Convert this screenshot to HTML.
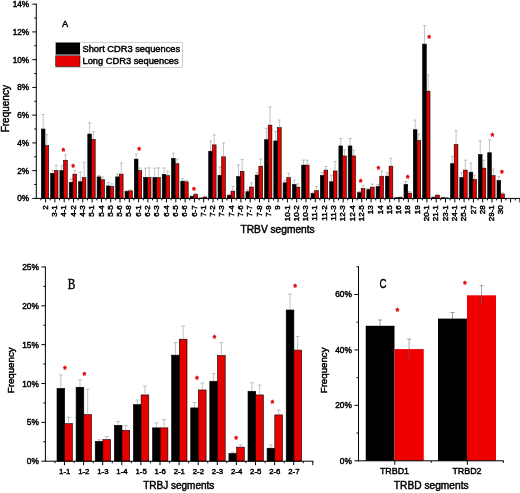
<!DOCTYPE html><html><head><meta charset="utf-8"><title>TRB segment usage</title><style>html,body{margin:0;padding:0;background:#fff}svg{display:block}text{font-family:"Liberation Sans",sans-serif;fill:#000;stroke:#000;stroke-width:.45px}.s{font-family:"Liberation Serif",serif}</style></head><body>
<svg width="520" height="493" viewBox="0 0 520 493">
<defs><filter id="soft" x="0" y="0" width="100%" height="100%" filterUnits="userSpaceOnUse"><feGaussianBlur stdDeviation="0.45"/></filter></defs><rect width="520" height="493" fill="#fff"/><g filter="url(#soft)">
<line x1="43.15" y1="114.46" x2="43.15" y2="129.03" stroke="#9a9a9a" stroke-width="0.6"/>
<line x1="41.55" y1="114.46" x2="44.75" y2="114.46" stroke="#9a9a9a" stroke-width="0.6"/>
<rect x="41.30" y="129.03" width="3.70" height="69.38" fill="#000" stroke="#000" stroke-width="0.6"/>
<rect x="45.00" y="145.68" width="3.70" height="52.72" fill="#e60000" stroke="#000" stroke-width="0.6"/>
<line x1="46.85" y1="134.58" x2="46.85" y2="145.68" stroke="#9a9a9a" stroke-width="0.6"/>
<line x1="45.25" y1="134.58" x2="48.45" y2="134.58" stroke="#9a9a9a" stroke-width="0.6"/>
<line x1="52.45" y1="170.65" x2="52.45" y2="173.43" stroke="#9a9a9a" stroke-width="0.6"/>
<line x1="50.85" y1="170.65" x2="54.05" y2="170.65" stroke="#9a9a9a" stroke-width="0.6"/>
<rect x="50.60" y="173.43" width="3.70" height="24.97" fill="#000" stroke="#000" stroke-width="0.6"/>
<rect x="54.30" y="170.65" width="3.70" height="27.75" fill="#e60000" stroke="#000" stroke-width="0.6"/>
<line x1="56.15" y1="165.10" x2="56.15" y2="170.65" stroke="#9a9a9a" stroke-width="0.6"/>
<line x1="54.55" y1="165.10" x2="57.75" y2="165.10" stroke="#9a9a9a" stroke-width="0.6"/>
<line x1="61.75" y1="165.79" x2="61.75" y2="170.65" stroke="#9a9a9a" stroke-width="0.6"/>
<line x1="60.15" y1="165.79" x2="63.35" y2="165.79" stroke="#9a9a9a" stroke-width="0.6"/>
<rect x="59.90" y="170.65" width="3.70" height="27.75" fill="#000" stroke="#000" stroke-width="0.6"/>
<rect x="63.60" y="160.24" width="3.70" height="38.16" fill="#e60000" stroke="#000" stroke-width="0.6"/>
<line x1="65.45" y1="154.69" x2="65.45" y2="160.24" stroke="#9a9a9a" stroke-width="0.6"/>
<line x1="63.85" y1="154.69" x2="67.05" y2="154.69" stroke="#9a9a9a" stroke-width="0.6"/>
<text x="61.84" y="154.27" font-size="8.5" font-weight="bold" style="fill:#e60000;stroke:#e60000">*</text>
<line x1="71.05" y1="178.98" x2="71.05" y2="182.44" stroke="#9a9a9a" stroke-width="0.6"/>
<line x1="69.45" y1="178.98" x2="72.65" y2="178.98" stroke="#9a9a9a" stroke-width="0.6"/>
<rect x="69.20" y="182.44" width="3.70" height="15.96" fill="#000" stroke="#000" stroke-width="0.6"/>
<rect x="72.90" y="174.12" width="3.70" height="24.28" fill="#e60000" stroke="#000" stroke-width="0.6"/>
<line x1="74.75" y1="170.65" x2="74.75" y2="174.12" stroke="#9a9a9a" stroke-width="0.6"/>
<line x1="73.15" y1="170.65" x2="76.35" y2="170.65" stroke="#9a9a9a" stroke-width="0.6"/>
<text x="71.54" y="169.97" font-size="8.5" font-weight="bold" style="fill:#e60000;stroke:#e60000">*</text>
<line x1="80.35" y1="172.04" x2="80.35" y2="181.75" stroke="#9a9a9a" stroke-width="0.6"/>
<line x1="78.75" y1="172.04" x2="81.95" y2="172.04" stroke="#9a9a9a" stroke-width="0.6"/>
<rect x="78.50" y="181.75" width="3.70" height="16.65" fill="#000" stroke="#000" stroke-width="0.6"/>
<rect x="82.20" y="177.59" width="3.70" height="20.81" fill="#e60000" stroke="#000" stroke-width="0.6"/>
<line x1="84.05" y1="162.32" x2="84.05" y2="177.59" stroke="#9a9a9a" stroke-width="0.6"/>
<line x1="82.45" y1="162.32" x2="85.65" y2="162.32" stroke="#9a9a9a" stroke-width="0.6"/>
<line x1="89.65" y1="122.78" x2="89.65" y2="134.02" stroke="#9a9a9a" stroke-width="0.6"/>
<line x1="88.05" y1="122.78" x2="91.25" y2="122.78" stroke="#9a9a9a" stroke-width="0.6"/>
<rect x="87.80" y="134.02" width="3.70" height="64.38" fill="#000" stroke="#000" stroke-width="0.6"/>
<rect x="91.50" y="139.43" width="3.70" height="58.97" fill="#e60000" stroke="#000" stroke-width="0.6"/>
<line x1="93.35" y1="131.80" x2="93.35" y2="139.43" stroke="#9a9a9a" stroke-width="0.6"/>
<line x1="91.75" y1="131.80" x2="94.95" y2="131.80" stroke="#9a9a9a" stroke-width="0.6"/>
<line x1="98.95" y1="175.51" x2="98.95" y2="176.89" stroke="#9a9a9a" stroke-width="0.6"/>
<line x1="97.35" y1="175.51" x2="100.55" y2="175.51" stroke="#9a9a9a" stroke-width="0.6"/>
<rect x="97.10" y="176.89" width="3.70" height="21.51" fill="#000" stroke="#000" stroke-width="0.6"/>
<rect x="100.80" y="179.67" width="3.70" height="18.73" fill="#e60000" stroke="#000" stroke-width="0.6"/>
<line x1="102.65" y1="176.89" x2="102.65" y2="179.67" stroke="#9a9a9a" stroke-width="0.6"/>
<line x1="101.05" y1="176.89" x2="104.25" y2="176.89" stroke="#9a9a9a" stroke-width="0.6"/>
<line x1="108.25" y1="182.44" x2="108.25" y2="185.91" stroke="#9a9a9a" stroke-width="0.6"/>
<line x1="106.65" y1="182.44" x2="109.85" y2="182.44" stroke="#9a9a9a" stroke-width="0.6"/>
<rect x="106.40" y="185.91" width="3.70" height="12.49" fill="#000" stroke="#000" stroke-width="0.6"/>
<rect x="110.10" y="186.61" width="3.70" height="11.79" fill="#e60000" stroke="#000" stroke-width="0.6"/>
<line x1="111.95" y1="183.83" x2="111.95" y2="186.61" stroke="#9a9a9a" stroke-width="0.6"/>
<line x1="110.35" y1="183.83" x2="113.55" y2="183.83" stroke="#9a9a9a" stroke-width="0.6"/>
<line x1="117.55" y1="174.12" x2="117.55" y2="176.89" stroke="#9a9a9a" stroke-width="0.6"/>
<line x1="115.95" y1="174.12" x2="119.15" y2="174.12" stroke="#9a9a9a" stroke-width="0.6"/>
<rect x="115.70" y="176.89" width="3.70" height="21.51" fill="#000" stroke="#000" stroke-width="0.6"/>
<rect x="119.40" y="174.12" width="3.70" height="24.28" fill="#e60000" stroke="#000" stroke-width="0.6"/>
<line x1="121.25" y1="163.02" x2="121.25" y2="174.12" stroke="#9a9a9a" stroke-width="0.6"/>
<line x1="119.65" y1="163.02" x2="122.85" y2="163.02" stroke="#9a9a9a" stroke-width="0.6"/>
<line x1="126.85" y1="190.77" x2="126.85" y2="191.46" stroke="#9a9a9a" stroke-width="0.6"/>
<line x1="125.25" y1="190.77" x2="128.45" y2="190.77" stroke="#9a9a9a" stroke-width="0.6"/>
<rect x="125.00" y="191.46" width="3.70" height="6.94" fill="#000" stroke="#000" stroke-width="0.6"/>
<rect x="128.70" y="190.77" width="3.70" height="7.63" fill="#e60000" stroke="#000" stroke-width="0.6"/>
<line x1="130.55" y1="190.08" x2="130.55" y2="190.77" stroke="#9a9a9a" stroke-width="0.6"/>
<line x1="128.95" y1="190.08" x2="132.15" y2="190.08" stroke="#9a9a9a" stroke-width="0.6"/>
<line x1="136.15" y1="154.00" x2="136.15" y2="159.13" stroke="#9a9a9a" stroke-width="0.6"/>
<line x1="134.55" y1="154.00" x2="137.75" y2="154.00" stroke="#9a9a9a" stroke-width="0.6"/>
<rect x="134.30" y="159.13" width="3.70" height="39.27" fill="#000" stroke="#000" stroke-width="0.6"/>
<rect x="138.00" y="170.65" width="3.70" height="27.75" fill="#e60000" stroke="#000" stroke-width="0.6"/>
<line x1="139.85" y1="167.88" x2="139.85" y2="170.65" stroke="#9a9a9a" stroke-width="0.6"/>
<line x1="138.25" y1="167.88" x2="141.45" y2="167.88" stroke="#9a9a9a" stroke-width="0.6"/>
<text x="137.59" y="152.97" font-size="8.5" font-weight="bold" style="fill:#e60000;stroke:#e60000">*</text>
<line x1="145.45" y1="168.15" x2="145.45" y2="177.45" stroke="#9a9a9a" stroke-width="0.6"/>
<line x1="143.85" y1="168.15" x2="147.05" y2="168.15" stroke="#9a9a9a" stroke-width="0.6"/>
<rect x="143.60" y="177.45" width="3.70" height="20.95" fill="#000" stroke="#000" stroke-width="0.6"/>
<rect x="147.30" y="177.45" width="3.70" height="20.95" fill="#e60000" stroke="#000" stroke-width="0.6"/>
<line x1="149.15" y1="167.88" x2="149.15" y2="177.45" stroke="#9a9a9a" stroke-width="0.6"/>
<line x1="147.55" y1="167.88" x2="150.75" y2="167.88" stroke="#9a9a9a" stroke-width="0.6"/>
<line x1="154.75" y1="168.15" x2="154.75" y2="177.59" stroke="#9a9a9a" stroke-width="0.6"/>
<line x1="153.15" y1="168.15" x2="156.35" y2="168.15" stroke="#9a9a9a" stroke-width="0.6"/>
<rect x="152.90" y="177.59" width="3.70" height="20.81" fill="#000" stroke="#000" stroke-width="0.6"/>
<rect x="156.60" y="177.59" width="3.70" height="20.81" fill="#e60000" stroke="#000" stroke-width="0.6"/>
<line x1="158.45" y1="167.88" x2="158.45" y2="177.59" stroke="#9a9a9a" stroke-width="0.6"/>
<line x1="156.85" y1="167.88" x2="160.05" y2="167.88" stroke="#9a9a9a" stroke-width="0.6"/>
<line x1="164.05" y1="167.88" x2="164.05" y2="174.40" stroke="#9a9a9a" stroke-width="0.6"/>
<line x1="162.45" y1="167.88" x2="165.65" y2="167.88" stroke="#9a9a9a" stroke-width="0.6"/>
<rect x="162.20" y="174.40" width="3.70" height="24.00" fill="#000" stroke="#000" stroke-width="0.6"/>
<rect x="165.90" y="175.65" width="3.70" height="22.75" fill="#e60000" stroke="#000" stroke-width="0.6"/>
<line x1="167.75" y1="171.21" x2="167.75" y2="175.65" stroke="#9a9a9a" stroke-width="0.6"/>
<line x1="166.15" y1="171.21" x2="169.35" y2="171.21" stroke="#9a9a9a" stroke-width="0.6"/>
<line x1="173.35" y1="153.17" x2="173.35" y2="158.44" stroke="#9a9a9a" stroke-width="0.6"/>
<line x1="171.75" y1="153.17" x2="174.95" y2="153.17" stroke="#9a9a9a" stroke-width="0.6"/>
<rect x="171.50" y="158.44" width="3.70" height="39.96" fill="#000" stroke="#000" stroke-width="0.6"/>
<rect x="175.20" y="163.71" width="3.70" height="34.69" fill="#e60000" stroke="#000" stroke-width="0.6"/>
<line x1="177.05" y1="159.13" x2="177.05" y2="163.71" stroke="#9a9a9a" stroke-width="0.6"/>
<line x1="175.45" y1="159.13" x2="178.65" y2="159.13" stroke="#9a9a9a" stroke-width="0.6"/>
<line x1="182.65" y1="178.70" x2="182.65" y2="181.19" stroke="#9a9a9a" stroke-width="0.6"/>
<line x1="181.05" y1="178.70" x2="184.25" y2="178.70" stroke="#9a9a9a" stroke-width="0.6"/>
<rect x="180.80" y="181.19" width="3.70" height="17.21" fill="#000" stroke="#000" stroke-width="0.6"/>
<rect x="184.50" y="181.89" width="3.70" height="16.51" fill="#e60000" stroke="#000" stroke-width="0.6"/>
<line x1="186.35" y1="180.36" x2="186.35" y2="181.89" stroke="#9a9a9a" stroke-width="0.6"/>
<line x1="184.75" y1="180.36" x2="187.95" y2="180.36" stroke="#9a9a9a" stroke-width="0.6"/>
<line x1="191.95" y1="195.90" x2="191.95" y2="196.46" stroke="#9a9a9a" stroke-width="0.6"/>
<line x1="190.35" y1="195.90" x2="193.55" y2="195.90" stroke="#9a9a9a" stroke-width="0.6"/>
<rect x="190.10" y="196.46" width="3.70" height="1.94" fill="#000" stroke="#000" stroke-width="0.6"/>
<rect x="193.80" y="194.38" width="3.70" height="4.02" fill="#e60000" stroke="#000" stroke-width="0.6"/>
<line x1="195.65" y1="193.54" x2="195.65" y2="194.38" stroke="#9a9a9a" stroke-width="0.6"/>
<line x1="194.05" y1="193.54" x2="197.25" y2="193.54" stroke="#9a9a9a" stroke-width="0.6"/>
<text x="192.34" y="193.22" font-size="8.5" font-weight="bold" style="fill:#e60000;stroke:#e60000">*</text>
<rect x="199.40" y="197.98" width="3.70" height="0.42" fill="#000" stroke="#000" stroke-width="0.6"/>
<rect x="203.10" y="197.01" width="3.70" height="1.39" fill="#e60000" stroke="#000" stroke-width="0.6"/>
<line x1="204.95" y1="196.32" x2="204.95" y2="197.01" stroke="#9a9a9a" stroke-width="0.6"/>
<line x1="203.35" y1="196.32" x2="206.55" y2="196.32" stroke="#9a9a9a" stroke-width="0.6"/>
<line x1="210.55" y1="141.10" x2="210.55" y2="151.23" stroke="#9a9a9a" stroke-width="0.6"/>
<line x1="208.95" y1="141.10" x2="212.15" y2="141.10" stroke="#9a9a9a" stroke-width="0.6"/>
<rect x="208.70" y="151.23" width="3.70" height="47.17" fill="#000" stroke="#000" stroke-width="0.6"/>
<rect x="212.40" y="144.84" width="3.70" height="53.56" fill="#e60000" stroke="#000" stroke-width="0.6"/>
<line x1="214.25" y1="134.85" x2="214.25" y2="144.84" stroke="#9a9a9a" stroke-width="0.6"/>
<line x1="212.65" y1="134.85" x2="215.85" y2="134.85" stroke="#9a9a9a" stroke-width="0.6"/>
<line x1="219.85" y1="166.90" x2="219.85" y2="175.37" stroke="#9a9a9a" stroke-width="0.6"/>
<line x1="218.25" y1="166.90" x2="221.45" y2="166.90" stroke="#9a9a9a" stroke-width="0.6"/>
<rect x="218.00" y="175.37" width="3.70" height="23.03" fill="#000" stroke="#000" stroke-width="0.6"/>
<rect x="221.70" y="156.78" width="3.70" height="41.62" fill="#e60000" stroke="#000" stroke-width="0.6"/>
<line x1="223.55" y1="142.90" x2="223.55" y2="156.78" stroke="#9a9a9a" stroke-width="0.6"/>
<line x1="221.95" y1="142.90" x2="225.15" y2="142.90" stroke="#9a9a9a" stroke-width="0.6"/>
<line x1="229.15" y1="194.24" x2="229.15" y2="195.35" stroke="#9a9a9a" stroke-width="0.6"/>
<line x1="227.55" y1="194.24" x2="230.75" y2="194.24" stroke="#9a9a9a" stroke-width="0.6"/>
<rect x="227.30" y="195.35" width="3.70" height="3.05" fill="#000" stroke="#000" stroke-width="0.6"/>
<rect x="231.00" y="191.19" width="3.70" height="7.22" fill="#e60000" stroke="#000" stroke-width="0.6"/>
<line x1="232.85" y1="186.19" x2="232.85" y2="191.19" stroke="#9a9a9a" stroke-width="0.6"/>
<line x1="231.25" y1="186.19" x2="234.45" y2="186.19" stroke="#9a9a9a" stroke-width="0.6"/>
<line x1="238.45" y1="164.96" x2="238.45" y2="176.62" stroke="#9a9a9a" stroke-width="0.6"/>
<line x1="236.85" y1="164.96" x2="240.05" y2="164.96" stroke="#9a9a9a" stroke-width="0.6"/>
<rect x="236.60" y="176.62" width="3.70" height="21.78" fill="#000" stroke="#000" stroke-width="0.6"/>
<rect x="240.30" y="171.34" width="3.70" height="27.06" fill="#e60000" stroke="#000" stroke-width="0.6"/>
<line x1="242.15" y1="159.41" x2="242.15" y2="171.34" stroke="#9a9a9a" stroke-width="0.6"/>
<line x1="240.55" y1="159.41" x2="243.75" y2="159.41" stroke="#9a9a9a" stroke-width="0.6"/>
<line x1="247.75" y1="189.66" x2="247.75" y2="191.74" stroke="#9a9a9a" stroke-width="0.6"/>
<line x1="246.15" y1="189.66" x2="249.35" y2="189.66" stroke="#9a9a9a" stroke-width="0.6"/>
<rect x="245.90" y="191.74" width="3.70" height="6.66" fill="#000" stroke="#000" stroke-width="0.6"/>
<rect x="249.60" y="187.02" width="3.70" height="11.38" fill="#e60000" stroke="#000" stroke-width="0.6"/>
<line x1="251.45" y1="182.72" x2="251.45" y2="187.02" stroke="#9a9a9a" stroke-width="0.6"/>
<line x1="249.85" y1="182.72" x2="253.05" y2="182.72" stroke="#9a9a9a" stroke-width="0.6"/>
<line x1="257.05" y1="172.59" x2="257.05" y2="175.09" stroke="#9a9a9a" stroke-width="0.6"/>
<line x1="255.45" y1="172.59" x2="258.65" y2="172.59" stroke="#9a9a9a" stroke-width="0.6"/>
<rect x="255.20" y="175.09" width="3.70" height="23.31" fill="#000" stroke="#000" stroke-width="0.6"/>
<rect x="258.90" y="166.21" width="3.70" height="32.19" fill="#e60000" stroke="#000" stroke-width="0.6"/>
<line x1="260.75" y1="158.86" x2="260.75" y2="166.21" stroke="#9a9a9a" stroke-width="0.6"/>
<line x1="259.15" y1="158.86" x2="262.35" y2="158.86" stroke="#9a9a9a" stroke-width="0.6"/>
<line x1="266.35" y1="128.33" x2="266.35" y2="139.71" stroke="#9a9a9a" stroke-width="0.6"/>
<line x1="264.75" y1="128.33" x2="267.95" y2="128.33" stroke="#9a9a9a" stroke-width="0.6"/>
<rect x="264.50" y="139.71" width="3.70" height="58.69" fill="#000" stroke="#000" stroke-width="0.6"/>
<rect x="268.20" y="125.14" width="3.70" height="73.26" fill="#e60000" stroke="#000" stroke-width="0.6"/>
<line x1="270.05" y1="106.83" x2="270.05" y2="125.14" stroke="#9a9a9a" stroke-width="0.6"/>
<line x1="268.45" y1="106.83" x2="271.65" y2="106.83" stroke="#9a9a9a" stroke-width="0.6"/>
<line x1="275.65" y1="131.38" x2="275.65" y2="140.96" stroke="#9a9a9a" stroke-width="0.6"/>
<line x1="274.05" y1="131.38" x2="277.25" y2="131.38" stroke="#9a9a9a" stroke-width="0.6"/>
<rect x="273.80" y="140.96" width="3.70" height="57.44" fill="#000" stroke="#000" stroke-width="0.6"/>
<rect x="277.50" y="127.64" width="3.70" height="70.76" fill="#e60000" stroke="#000" stroke-width="0.6"/>
<line x1="279.35" y1="120.01" x2="279.35" y2="127.64" stroke="#9a9a9a" stroke-width="0.6"/>
<line x1="277.75" y1="120.01" x2="280.95" y2="120.01" stroke="#9a9a9a" stroke-width="0.6"/>
<line x1="284.95" y1="180.36" x2="284.95" y2="182.86" stroke="#9a9a9a" stroke-width="0.6"/>
<line x1="283.35" y1="180.36" x2="286.55" y2="180.36" stroke="#9a9a9a" stroke-width="0.6"/>
<rect x="283.10" y="182.86" width="3.70" height="15.54" fill="#000" stroke="#000" stroke-width="0.6"/>
<rect x="286.80" y="177.59" width="3.70" height="20.81" fill="#e60000" stroke="#000" stroke-width="0.6"/>
<line x1="288.65" y1="173.15" x2="288.65" y2="177.59" stroke="#9a9a9a" stroke-width="0.6"/>
<line x1="287.05" y1="173.15" x2="290.25" y2="173.15" stroke="#9a9a9a" stroke-width="0.6"/>
<line x1="294.25" y1="180.36" x2="294.25" y2="184.53" stroke="#9a9a9a" stroke-width="0.6"/>
<line x1="292.65" y1="180.36" x2="295.85" y2="180.36" stroke="#9a9a9a" stroke-width="0.6"/>
<rect x="292.40" y="184.53" width="3.70" height="13.88" fill="#000" stroke="#000" stroke-width="0.6"/>
<rect x="296.10" y="187.16" width="3.70" height="11.24" fill="#e60000" stroke="#000" stroke-width="0.6"/>
<line x1="297.95" y1="183.83" x2="297.95" y2="187.16" stroke="#9a9a9a" stroke-width="0.6"/>
<line x1="296.35" y1="183.83" x2="299.55" y2="183.83" stroke="#9a9a9a" stroke-width="0.6"/>
<line x1="303.55" y1="160.11" x2="303.55" y2="165.10" stroke="#9a9a9a" stroke-width="0.6"/>
<line x1="301.95" y1="160.11" x2="305.15" y2="160.11" stroke="#9a9a9a" stroke-width="0.6"/>
<rect x="301.70" y="165.10" width="3.70" height="33.30" fill="#000" stroke="#000" stroke-width="0.6"/>
<rect x="305.40" y="165.10" width="3.70" height="33.30" fill="#e60000" stroke="#000" stroke-width="0.6"/>
<line x1="307.25" y1="160.11" x2="307.25" y2="165.10" stroke="#9a9a9a" stroke-width="0.6"/>
<line x1="305.65" y1="160.11" x2="308.85" y2="160.11" stroke="#9a9a9a" stroke-width="0.6"/>
<line x1="312.85" y1="192.16" x2="312.85" y2="193.68" stroke="#9a9a9a" stroke-width="0.6"/>
<line x1="311.25" y1="192.16" x2="314.45" y2="192.16" stroke="#9a9a9a" stroke-width="0.6"/>
<rect x="311.00" y="193.68" width="3.70" height="4.72" fill="#000" stroke="#000" stroke-width="0.6"/>
<rect x="314.70" y="190.63" width="3.70" height="7.77" fill="#e60000" stroke="#000" stroke-width="0.6"/>
<line x1="316.55" y1="186.47" x2="316.55" y2="190.63" stroke="#9a9a9a" stroke-width="0.6"/>
<line x1="314.95" y1="186.47" x2="318.15" y2="186.47" stroke="#9a9a9a" stroke-width="0.6"/>
<line x1="322.15" y1="172.59" x2="322.15" y2="175.65" stroke="#9a9a9a" stroke-width="0.6"/>
<line x1="320.55" y1="172.59" x2="323.75" y2="172.59" stroke="#9a9a9a" stroke-width="0.6"/>
<rect x="320.30" y="175.65" width="3.70" height="22.75" fill="#000" stroke="#000" stroke-width="0.6"/>
<rect x="324.00" y="170.09" width="3.70" height="28.31" fill="#e60000" stroke="#000" stroke-width="0.6"/>
<line x1="325.85" y1="166.49" x2="325.85" y2="170.09" stroke="#9a9a9a" stroke-width="0.6"/>
<line x1="324.25" y1="166.49" x2="327.45" y2="166.49" stroke="#9a9a9a" stroke-width="0.6"/>
<line x1="331.45" y1="175.09" x2="331.45" y2="181.75" stroke="#9a9a9a" stroke-width="0.6"/>
<line x1="329.85" y1="175.09" x2="333.05" y2="175.09" stroke="#9a9a9a" stroke-width="0.6"/>
<rect x="329.60" y="181.75" width="3.70" height="16.65" fill="#000" stroke="#000" stroke-width="0.6"/>
<rect x="333.30" y="170.93" width="3.70" height="27.47" fill="#e60000" stroke="#000" stroke-width="0.6"/>
<line x1="335.15" y1="161.35" x2="335.15" y2="170.93" stroke="#9a9a9a" stroke-width="0.6"/>
<line x1="333.55" y1="161.35" x2="336.75" y2="161.35" stroke="#9a9a9a" stroke-width="0.6"/>
<line x1="340.75" y1="138.46" x2="340.75" y2="145.95" stroke="#9a9a9a" stroke-width="0.6"/>
<line x1="339.15" y1="138.46" x2="342.35" y2="138.46" stroke="#9a9a9a" stroke-width="0.6"/>
<rect x="338.90" y="145.95" width="3.70" height="52.45" fill="#000" stroke="#000" stroke-width="0.6"/>
<rect x="342.60" y="155.94" width="3.70" height="42.46" fill="#e60000" stroke="#000" stroke-width="0.6"/>
<line x1="344.45" y1="149.84" x2="344.45" y2="155.94" stroke="#9a9a9a" stroke-width="0.6"/>
<line x1="342.85" y1="149.84" x2="346.05" y2="149.84" stroke="#9a9a9a" stroke-width="0.6"/>
<line x1="350.05" y1="138.46" x2="350.05" y2="145.95" stroke="#9a9a9a" stroke-width="0.6"/>
<line x1="348.45" y1="138.46" x2="351.65" y2="138.46" stroke="#9a9a9a" stroke-width="0.6"/>
<rect x="348.20" y="145.95" width="3.70" height="52.45" fill="#000" stroke="#000" stroke-width="0.6"/>
<rect x="351.90" y="155.94" width="3.70" height="42.46" fill="#e60000" stroke="#000" stroke-width="0.6"/>
<line x1="353.75" y1="150.12" x2="353.75" y2="155.94" stroke="#9a9a9a" stroke-width="0.6"/>
<line x1="352.15" y1="150.12" x2="355.35" y2="150.12" stroke="#9a9a9a" stroke-width="0.6"/>
<line x1="359.35" y1="191.46" x2="359.35" y2="192.71" stroke="#9a9a9a" stroke-width="0.6"/>
<line x1="357.75" y1="191.46" x2="360.95" y2="191.46" stroke="#9a9a9a" stroke-width="0.6"/>
<rect x="357.50" y="192.71" width="3.70" height="5.69" fill="#000" stroke="#000" stroke-width="0.6"/>
<rect x="361.20" y="188.41" width="3.70" height="9.99" fill="#e60000" stroke="#000" stroke-width="0.6"/>
<line x1="363.05" y1="185.22" x2="363.05" y2="188.41" stroke="#9a9a9a" stroke-width="0.6"/>
<line x1="361.45" y1="185.22" x2="364.65" y2="185.22" stroke="#9a9a9a" stroke-width="0.6"/>
<text x="359.04" y="185.17" font-size="8.5" font-weight="bold" style="fill:#e60000;stroke:#e60000">*</text>
<line x1="368.65" y1="188.69" x2="368.65" y2="189.66" stroke="#9a9a9a" stroke-width="0.6"/>
<line x1="367.05" y1="188.69" x2="370.25" y2="188.69" stroke="#9a9a9a" stroke-width="0.6"/>
<rect x="366.80" y="189.66" width="3.70" height="8.74" fill="#000" stroke="#000" stroke-width="0.6"/>
<rect x="370.50" y="187.16" width="3.70" height="11.24" fill="#e60000" stroke="#000" stroke-width="0.6"/>
<line x1="372.35" y1="184.11" x2="372.35" y2="187.16" stroke="#9a9a9a" stroke-width="0.6"/>
<line x1="370.75" y1="184.11" x2="373.95" y2="184.11" stroke="#9a9a9a" stroke-width="0.6"/>
<line x1="377.95" y1="184.53" x2="377.95" y2="186.61" stroke="#9a9a9a" stroke-width="0.6"/>
<line x1="376.35" y1="184.53" x2="379.55" y2="184.53" stroke="#9a9a9a" stroke-width="0.6"/>
<rect x="376.10" y="186.61" width="3.70" height="11.79" fill="#000" stroke="#000" stroke-width="0.6"/>
<rect x="379.80" y="176.20" width="3.70" height="22.20" fill="#e60000" stroke="#000" stroke-width="0.6"/>
<line x1="381.65" y1="170.93" x2="381.65" y2="176.20" stroke="#9a9a9a" stroke-width="0.6"/>
<line x1="380.05" y1="170.93" x2="383.25" y2="170.93" stroke="#9a9a9a" stroke-width="0.6"/>
<text x="376.84" y="172.47" font-size="8.5" font-weight="bold" style="fill:#e60000;stroke:#e60000">*</text>
<line x1="387.25" y1="172.59" x2="387.25" y2="176.20" stroke="#9a9a9a" stroke-width="0.6"/>
<line x1="385.65" y1="172.59" x2="388.85" y2="172.59" stroke="#9a9a9a" stroke-width="0.6"/>
<rect x="385.40" y="176.20" width="3.70" height="22.20" fill="#000" stroke="#000" stroke-width="0.6"/>
<rect x="389.10" y="166.21" width="3.70" height="32.19" fill="#e60000" stroke="#000" stroke-width="0.6"/>
<line x1="390.95" y1="158.16" x2="390.95" y2="166.21" stroke="#9a9a9a" stroke-width="0.6"/>
<line x1="389.35" y1="158.16" x2="392.55" y2="158.16" stroke="#9a9a9a" stroke-width="0.6"/>
<rect x="394.70" y="197.71" width="3.70" height="0.69" fill="#000" stroke="#000" stroke-width="0.6"/>
<rect x="398.40" y="197.15" width="3.70" height="1.25" fill="#e60000" stroke="#000" stroke-width="0.6"/>
<line x1="405.85" y1="181.47" x2="405.85" y2="184.53" stroke="#9a9a9a" stroke-width="0.6"/>
<line x1="404.25" y1="181.47" x2="407.45" y2="181.47" stroke="#9a9a9a" stroke-width="0.6"/>
<rect x="404.00" y="184.53" width="3.70" height="13.88" fill="#000" stroke="#000" stroke-width="0.6"/>
<rect x="407.70" y="193.13" width="3.70" height="5.27" fill="#e60000" stroke="#000" stroke-width="0.6"/>
<line x1="409.55" y1="191.46" x2="409.55" y2="193.13" stroke="#9a9a9a" stroke-width="0.6"/>
<line x1="407.95" y1="191.46" x2="411.15" y2="191.46" stroke="#9a9a9a" stroke-width="0.6"/>
<text x="406.09" y="180.72" font-size="8.5" font-weight="bold" style="fill:#e60000;stroke:#e60000">*</text>
<line x1="415.15" y1="120.01" x2="415.15" y2="129.72" stroke="#9a9a9a" stroke-width="0.6"/>
<line x1="413.55" y1="120.01" x2="416.75" y2="120.01" stroke="#9a9a9a" stroke-width="0.6"/>
<rect x="413.30" y="129.72" width="3.70" height="68.68" fill="#000" stroke="#000" stroke-width="0.6"/>
<rect x="417.00" y="140.68" width="3.70" height="57.72" fill="#e60000" stroke="#000" stroke-width="0.6"/>
<line x1="418.85" y1="133.88" x2="418.85" y2="140.68" stroke="#9a9a9a" stroke-width="0.6"/>
<line x1="417.25" y1="133.88" x2="420.45" y2="133.88" stroke="#9a9a9a" stroke-width="0.6"/>
<line x1="424.45" y1="25.66" x2="424.45" y2="44.11" stroke="#9a9a9a" stroke-width="0.6"/>
<line x1="422.85" y1="25.66" x2="426.05" y2="25.66" stroke="#9a9a9a" stroke-width="0.6"/>
<rect x="422.60" y="44.11" width="3.70" height="154.29" fill="#000" stroke="#000" stroke-width="0.6"/>
<rect x="426.30" y="91.15" width="3.70" height="107.25" fill="#e60000" stroke="#000" stroke-width="0.6"/>
<line x1="428.15" y1="74.91" x2="428.15" y2="91.15" stroke="#9a9a9a" stroke-width="0.6"/>
<line x1="426.55" y1="74.91" x2="429.75" y2="74.91" stroke="#9a9a9a" stroke-width="0.6"/>
<text x="427.59" y="41.22" font-size="8.5" font-weight="bold" style="fill:#e60000;stroke:#e60000">*</text>
<rect x="431.90" y="197.15" width="3.70" height="1.25" fill="#000" stroke="#000" stroke-width="0.6"/>
<rect x="435.60" y="195.21" width="3.70" height="3.19" fill="#e60000" stroke="#000" stroke-width="0.6"/>
<line x1="437.45" y1="194.24" x2="437.45" y2="195.21" stroke="#9a9a9a" stroke-width="0.6"/>
<line x1="435.85" y1="194.24" x2="439.05" y2="194.24" stroke="#9a9a9a" stroke-width="0.6"/>
<rect x="441.20" y="197.71" width="3.70" height="0.69" fill="#000" stroke="#000" stroke-width="0.6"/>
<rect x="444.90" y="197.98" width="3.70" height="0.42" fill="#e60000" stroke="#000" stroke-width="0.6"/>
<line x1="452.35" y1="156.36" x2="452.35" y2="163.71" stroke="#9a9a9a" stroke-width="0.6"/>
<line x1="450.75" y1="156.36" x2="453.95" y2="156.36" stroke="#9a9a9a" stroke-width="0.6"/>
<rect x="450.50" y="163.71" width="3.70" height="34.69" fill="#000" stroke="#000" stroke-width="0.6"/>
<rect x="454.20" y="144.43" width="3.70" height="53.97" fill="#e60000" stroke="#000" stroke-width="0.6"/>
<line x1="456.05" y1="130.69" x2="456.05" y2="144.43" stroke="#9a9a9a" stroke-width="0.6"/>
<line x1="454.45" y1="130.69" x2="457.65" y2="130.69" stroke="#9a9a9a" stroke-width="0.6"/>
<line x1="461.65" y1="172.59" x2="461.65" y2="177.59" stroke="#9a9a9a" stroke-width="0.6"/>
<line x1="460.05" y1="172.59" x2="463.25" y2="172.59" stroke="#9a9a9a" stroke-width="0.6"/>
<rect x="459.80" y="177.59" width="3.70" height="20.81" fill="#000" stroke="#000" stroke-width="0.6"/>
<rect x="463.50" y="170.09" width="3.70" height="28.31" fill="#e60000" stroke="#000" stroke-width="0.6"/>
<line x1="465.35" y1="160.11" x2="465.35" y2="170.09" stroke="#9a9a9a" stroke-width="0.6"/>
<line x1="463.75" y1="160.11" x2="466.95" y2="160.11" stroke="#9a9a9a" stroke-width="0.6"/>
<line x1="470.95" y1="163.16" x2="470.95" y2="172.18" stroke="#9a9a9a" stroke-width="0.6"/>
<line x1="469.35" y1="163.16" x2="472.55" y2="163.16" stroke="#9a9a9a" stroke-width="0.6"/>
<rect x="469.10" y="172.18" width="3.70" height="26.22" fill="#000" stroke="#000" stroke-width="0.6"/>
<rect x="472.80" y="179.39" width="3.70" height="19.01" fill="#e60000" stroke="#000" stroke-width="0.6"/>
<line x1="474.65" y1="175.09" x2="474.65" y2="179.39" stroke="#9a9a9a" stroke-width="0.6"/>
<line x1="473.05" y1="175.09" x2="476.25" y2="175.09" stroke="#9a9a9a" stroke-width="0.6"/>
<line x1="480.25" y1="140.82" x2="480.25" y2="154.69" stroke="#9a9a9a" stroke-width="0.6"/>
<line x1="478.65" y1="140.82" x2="481.85" y2="140.82" stroke="#9a9a9a" stroke-width="0.6"/>
<rect x="478.40" y="154.69" width="3.70" height="43.71" fill="#000" stroke="#000" stroke-width="0.6"/>
<rect x="482.10" y="168.15" width="3.70" height="30.25" fill="#e60000" stroke="#000" stroke-width="0.6"/>
<line x1="483.95" y1="160.24" x2="483.95" y2="168.15" stroke="#9a9a9a" stroke-width="0.6"/>
<line x1="482.35" y1="160.24" x2="485.55" y2="160.24" stroke="#9a9a9a" stroke-width="0.6"/>
<line x1="489.55" y1="139.85" x2="489.55" y2="152.75" stroke="#9a9a9a" stroke-width="0.6"/>
<line x1="487.95" y1="139.85" x2="491.15" y2="139.85" stroke="#9a9a9a" stroke-width="0.6"/>
<rect x="487.70" y="152.75" width="3.70" height="45.65" fill="#000" stroke="#000" stroke-width="0.6"/>
<rect x="491.40" y="175.65" width="3.70" height="22.75" fill="#e60000" stroke="#000" stroke-width="0.6"/>
<line x1="493.25" y1="168.99" x2="493.25" y2="175.65" stroke="#9a9a9a" stroke-width="0.6"/>
<line x1="491.65" y1="168.99" x2="494.85" y2="168.99" stroke="#9a9a9a" stroke-width="0.6"/>
<text x="490.84" y="139.37" font-size="8.5" font-weight="bold" style="fill:#e60000;stroke:#e60000">*</text>
<line x1="498.85" y1="176.48" x2="498.85" y2="180.64" stroke="#9a9a9a" stroke-width="0.6"/>
<line x1="497.25" y1="176.48" x2="500.45" y2="176.48" stroke="#9a9a9a" stroke-width="0.6"/>
<rect x="497.00" y="180.64" width="3.70" height="17.76" fill="#000" stroke="#000" stroke-width="0.6"/>
<rect x="500.70" y="193.96" width="3.70" height="4.44" fill="#e60000" stroke="#000" stroke-width="0.6"/>
<line x1="502.55" y1="192.85" x2="502.55" y2="193.96" stroke="#9a9a9a" stroke-width="0.6"/>
<line x1="500.95" y1="192.85" x2="504.15" y2="192.85" stroke="#9a9a9a" stroke-width="0.6"/>
<text x="500.34" y="175.57" font-size="8.5" font-weight="bold" style="fill:#e60000;stroke:#e60000">*</text>
<line x1="36.30" y1="3.80" x2="36.30" y2="198.90" stroke="#000" stroke-width="1"/>
<line x1="35.80" y1="198.40" x2="520.00" y2="198.40" stroke="#000" stroke-width="1"/>
<line x1="32.30" y1="198.40" x2="36.30" y2="198.40" stroke="#000" stroke-width="1"/>
<text x="29.1" y="201.30" font-size="8.2" text-anchor="end">0%</text>
<line x1="34.30" y1="184.53" x2="36.30" y2="184.53" stroke="#000" stroke-width="1"/>
<line x1="32.30" y1="170.65" x2="36.30" y2="170.65" stroke="#000" stroke-width="1"/>
<text x="29.1" y="173.55" font-size="8.2" text-anchor="end">2%</text>
<line x1="34.30" y1="156.78" x2="36.30" y2="156.78" stroke="#000" stroke-width="1"/>
<line x1="32.30" y1="142.90" x2="36.30" y2="142.90" stroke="#000" stroke-width="1"/>
<text x="29.1" y="145.80" font-size="8.2" text-anchor="end">4%</text>
<line x1="34.30" y1="129.03" x2="36.30" y2="129.03" stroke="#000" stroke-width="1"/>
<line x1="32.30" y1="115.15" x2="36.30" y2="115.15" stroke="#000" stroke-width="1"/>
<text x="29.1" y="118.05" font-size="8.2" text-anchor="end">6%</text>
<line x1="34.30" y1="101.28" x2="36.30" y2="101.28" stroke="#000" stroke-width="1"/>
<line x1="32.30" y1="87.40" x2="36.30" y2="87.40" stroke="#000" stroke-width="1"/>
<text x="29.1" y="90.30" font-size="8.2" text-anchor="end">8%</text>
<line x1="34.30" y1="73.53" x2="36.30" y2="73.53" stroke="#000" stroke-width="1"/>
<line x1="32.30" y1="59.65" x2="36.30" y2="59.65" stroke="#000" stroke-width="1"/>
<text x="29.1" y="62.55" font-size="8.2" text-anchor="end">10%</text>
<line x1="34.30" y1="45.78" x2="36.30" y2="45.78" stroke="#000" stroke-width="1"/>
<line x1="32.30" y1="31.90" x2="36.30" y2="31.90" stroke="#000" stroke-width="1"/>
<text x="29.1" y="34.80" font-size="8.2" text-anchor="end">12%</text>
<line x1="34.30" y1="18.03" x2="36.30" y2="18.03" stroke="#000" stroke-width="1"/>
<line x1="32.30" y1="4.15" x2="36.30" y2="4.15" stroke="#000" stroke-width="1"/>
<text x="29.1" y="7.05" font-size="8.2" text-anchor="end">14%</text>
<line x1="40.95" y1="198.40" x2="40.95" y2="200.40" stroke="#000" stroke-width="1"/>
<line x1="45.60" y1="198.40" x2="45.60" y2="202.40" stroke="#000" stroke-width="1"/>
<line x1="50.25" y1="198.40" x2="50.25" y2="200.40" stroke="#000" stroke-width="1"/>
<line x1="54.90" y1="198.40" x2="54.90" y2="202.40" stroke="#000" stroke-width="1"/>
<line x1="59.55" y1="198.40" x2="59.55" y2="200.40" stroke="#000" stroke-width="1"/>
<line x1="64.20" y1="198.40" x2="64.20" y2="202.40" stroke="#000" stroke-width="1"/>
<line x1="68.85" y1="198.40" x2="68.85" y2="200.40" stroke="#000" stroke-width="1"/>
<line x1="73.50" y1="198.40" x2="73.50" y2="202.40" stroke="#000" stroke-width="1"/>
<line x1="78.15" y1="198.40" x2="78.15" y2="200.40" stroke="#000" stroke-width="1"/>
<line x1="82.80" y1="198.40" x2="82.80" y2="202.40" stroke="#000" stroke-width="1"/>
<line x1="87.45" y1="198.40" x2="87.45" y2="200.40" stroke="#000" stroke-width="1"/>
<line x1="92.10" y1="198.40" x2="92.10" y2="202.40" stroke="#000" stroke-width="1"/>
<line x1="96.75" y1="198.40" x2="96.75" y2="200.40" stroke="#000" stroke-width="1"/>
<line x1="101.40" y1="198.40" x2="101.40" y2="202.40" stroke="#000" stroke-width="1"/>
<line x1="106.05" y1="198.40" x2="106.05" y2="200.40" stroke="#000" stroke-width="1"/>
<line x1="110.70" y1="198.40" x2="110.70" y2="202.40" stroke="#000" stroke-width="1"/>
<line x1="115.35" y1="198.40" x2="115.35" y2="200.40" stroke="#000" stroke-width="1"/>
<line x1="120.00" y1="198.40" x2="120.00" y2="202.40" stroke="#000" stroke-width="1"/>
<line x1="124.65" y1="198.40" x2="124.65" y2="200.40" stroke="#000" stroke-width="1"/>
<line x1="129.30" y1="198.40" x2="129.30" y2="202.40" stroke="#000" stroke-width="1"/>
<line x1="133.95" y1="198.40" x2="133.95" y2="200.40" stroke="#000" stroke-width="1"/>
<line x1="138.60" y1="198.40" x2="138.60" y2="202.40" stroke="#000" stroke-width="1"/>
<line x1="143.25" y1="198.40" x2="143.25" y2="200.40" stroke="#000" stroke-width="1"/>
<line x1="147.90" y1="198.40" x2="147.90" y2="202.40" stroke="#000" stroke-width="1"/>
<line x1="152.55" y1="198.40" x2="152.55" y2="200.40" stroke="#000" stroke-width="1"/>
<line x1="157.20" y1="198.40" x2="157.20" y2="202.40" stroke="#000" stroke-width="1"/>
<line x1="161.85" y1="198.40" x2="161.85" y2="200.40" stroke="#000" stroke-width="1"/>
<line x1="166.50" y1="198.40" x2="166.50" y2="202.40" stroke="#000" stroke-width="1"/>
<line x1="171.15" y1="198.40" x2="171.15" y2="200.40" stroke="#000" stroke-width="1"/>
<line x1="175.80" y1="198.40" x2="175.80" y2="202.40" stroke="#000" stroke-width="1"/>
<line x1="180.45" y1="198.40" x2="180.45" y2="200.40" stroke="#000" stroke-width="1"/>
<line x1="185.10" y1="198.40" x2="185.10" y2="202.40" stroke="#000" stroke-width="1"/>
<line x1="189.75" y1="198.40" x2="189.75" y2="200.40" stroke="#000" stroke-width="1"/>
<line x1="194.40" y1="198.40" x2="194.40" y2="202.40" stroke="#000" stroke-width="1"/>
<line x1="199.05" y1="198.40" x2="199.05" y2="200.40" stroke="#000" stroke-width="1"/>
<line x1="203.70" y1="198.40" x2="203.70" y2="202.40" stroke="#000" stroke-width="1"/>
<line x1="208.35" y1="198.40" x2="208.35" y2="200.40" stroke="#000" stroke-width="1"/>
<line x1="213.00" y1="198.40" x2="213.00" y2="202.40" stroke="#000" stroke-width="1"/>
<line x1="217.65" y1="198.40" x2="217.65" y2="200.40" stroke="#000" stroke-width="1"/>
<line x1="222.30" y1="198.40" x2="222.30" y2="202.40" stroke="#000" stroke-width="1"/>
<line x1="226.95" y1="198.40" x2="226.95" y2="200.40" stroke="#000" stroke-width="1"/>
<line x1="231.60" y1="198.40" x2="231.60" y2="202.40" stroke="#000" stroke-width="1"/>
<line x1="236.25" y1="198.40" x2="236.25" y2="200.40" stroke="#000" stroke-width="1"/>
<line x1="240.90" y1="198.40" x2="240.90" y2="202.40" stroke="#000" stroke-width="1"/>
<line x1="245.55" y1="198.40" x2="245.55" y2="200.40" stroke="#000" stroke-width="1"/>
<line x1="250.20" y1="198.40" x2="250.20" y2="202.40" stroke="#000" stroke-width="1"/>
<line x1="254.85" y1="198.40" x2="254.85" y2="200.40" stroke="#000" stroke-width="1"/>
<line x1="259.50" y1="198.40" x2="259.50" y2="202.40" stroke="#000" stroke-width="1"/>
<line x1="264.15" y1="198.40" x2="264.15" y2="200.40" stroke="#000" stroke-width="1"/>
<line x1="268.80" y1="198.40" x2="268.80" y2="202.40" stroke="#000" stroke-width="1"/>
<line x1="273.45" y1="198.40" x2="273.45" y2="200.40" stroke="#000" stroke-width="1"/>
<line x1="278.10" y1="198.40" x2="278.10" y2="202.40" stroke="#000" stroke-width="1"/>
<line x1="282.75" y1="198.40" x2="282.75" y2="200.40" stroke="#000" stroke-width="1"/>
<line x1="287.40" y1="198.40" x2="287.40" y2="202.40" stroke="#000" stroke-width="1"/>
<line x1="292.05" y1="198.40" x2="292.05" y2="200.40" stroke="#000" stroke-width="1"/>
<line x1="296.70" y1="198.40" x2="296.70" y2="202.40" stroke="#000" stroke-width="1"/>
<line x1="301.35" y1="198.40" x2="301.35" y2="200.40" stroke="#000" stroke-width="1"/>
<line x1="306.00" y1="198.40" x2="306.00" y2="202.40" stroke="#000" stroke-width="1"/>
<line x1="310.65" y1="198.40" x2="310.65" y2="200.40" stroke="#000" stroke-width="1"/>
<line x1="315.30" y1="198.40" x2="315.30" y2="202.40" stroke="#000" stroke-width="1"/>
<line x1="319.95" y1="198.40" x2="319.95" y2="200.40" stroke="#000" stroke-width="1"/>
<line x1="324.60" y1="198.40" x2="324.60" y2="202.40" stroke="#000" stroke-width="1"/>
<line x1="329.25" y1="198.40" x2="329.25" y2="200.40" stroke="#000" stroke-width="1"/>
<line x1="333.90" y1="198.40" x2="333.90" y2="202.40" stroke="#000" stroke-width="1"/>
<line x1="338.55" y1="198.40" x2="338.55" y2="200.40" stroke="#000" stroke-width="1"/>
<line x1="343.20" y1="198.40" x2="343.20" y2="202.40" stroke="#000" stroke-width="1"/>
<line x1="347.85" y1="198.40" x2="347.85" y2="200.40" stroke="#000" stroke-width="1"/>
<line x1="352.50" y1="198.40" x2="352.50" y2="202.40" stroke="#000" stroke-width="1"/>
<line x1="357.15" y1="198.40" x2="357.15" y2="200.40" stroke="#000" stroke-width="1"/>
<line x1="361.80" y1="198.40" x2="361.80" y2="202.40" stroke="#000" stroke-width="1"/>
<line x1="366.45" y1="198.40" x2="366.45" y2="200.40" stroke="#000" stroke-width="1"/>
<line x1="371.10" y1="198.40" x2="371.10" y2="202.40" stroke="#000" stroke-width="1"/>
<line x1="375.75" y1="198.40" x2="375.75" y2="200.40" stroke="#000" stroke-width="1"/>
<line x1="380.40" y1="198.40" x2="380.40" y2="202.40" stroke="#000" stroke-width="1"/>
<line x1="385.05" y1="198.40" x2="385.05" y2="200.40" stroke="#000" stroke-width="1"/>
<line x1="389.70" y1="198.40" x2="389.70" y2="202.40" stroke="#000" stroke-width="1"/>
<line x1="394.35" y1="198.40" x2="394.35" y2="200.40" stroke="#000" stroke-width="1"/>
<line x1="399.00" y1="198.40" x2="399.00" y2="202.40" stroke="#000" stroke-width="1"/>
<line x1="403.65" y1="198.40" x2="403.65" y2="200.40" stroke="#000" stroke-width="1"/>
<line x1="408.30" y1="198.40" x2="408.30" y2="202.40" stroke="#000" stroke-width="1"/>
<line x1="412.95" y1="198.40" x2="412.95" y2="200.40" stroke="#000" stroke-width="1"/>
<line x1="417.60" y1="198.40" x2="417.60" y2="202.40" stroke="#000" stroke-width="1"/>
<line x1="422.25" y1="198.40" x2="422.25" y2="200.40" stroke="#000" stroke-width="1"/>
<line x1="426.90" y1="198.40" x2="426.90" y2="202.40" stroke="#000" stroke-width="1"/>
<line x1="431.55" y1="198.40" x2="431.55" y2="200.40" stroke="#000" stroke-width="1"/>
<line x1="436.20" y1="198.40" x2="436.20" y2="202.40" stroke="#000" stroke-width="1"/>
<line x1="440.85" y1="198.40" x2="440.85" y2="200.40" stroke="#000" stroke-width="1"/>
<line x1="445.50" y1="198.40" x2="445.50" y2="202.40" stroke="#000" stroke-width="1"/>
<line x1="450.15" y1="198.40" x2="450.15" y2="200.40" stroke="#000" stroke-width="1"/>
<line x1="454.80" y1="198.40" x2="454.80" y2="202.40" stroke="#000" stroke-width="1"/>
<line x1="459.45" y1="198.40" x2="459.45" y2="200.40" stroke="#000" stroke-width="1"/>
<line x1="464.10" y1="198.40" x2="464.10" y2="202.40" stroke="#000" stroke-width="1"/>
<line x1="468.75" y1="198.40" x2="468.75" y2="200.40" stroke="#000" stroke-width="1"/>
<line x1="473.40" y1="198.40" x2="473.40" y2="202.40" stroke="#000" stroke-width="1"/>
<line x1="478.05" y1="198.40" x2="478.05" y2="200.40" stroke="#000" stroke-width="1"/>
<line x1="482.70" y1="198.40" x2="482.70" y2="202.40" stroke="#000" stroke-width="1"/>
<line x1="487.35" y1="198.40" x2="487.35" y2="200.40" stroke="#000" stroke-width="1"/>
<line x1="492.00" y1="198.40" x2="492.00" y2="202.40" stroke="#000" stroke-width="1"/>
<line x1="496.65" y1="198.40" x2="496.65" y2="200.40" stroke="#000" stroke-width="1"/>
<line x1="501.30" y1="198.40" x2="501.30" y2="202.40" stroke="#000" stroke-width="1"/>
<line x1="505.95" y1="198.40" x2="505.95" y2="200.40" stroke="#000" stroke-width="1"/>
<line x1="510.60" y1="198.40" x2="510.60" y2="202.40" stroke="#000" stroke-width="1"/>
<line x1="515.25" y1="198.40" x2="515.25" y2="200.40" stroke="#000" stroke-width="1"/>
<line x1="519.90" y1="198.40" x2="519.90" y2="202.40" stroke="#000" stroke-width="1"/>
<text transform="translate(47.70,205.2) rotate(-90) scale(1.06,1)" font-size="7.6" text-anchor="end">2</text>
<text transform="translate(57.00,205.2) rotate(-90) scale(1.06,1)" font-size="7.6" text-anchor="end">3-1</text>
<text transform="translate(66.30,205.2) rotate(-90) scale(1.06,1)" font-size="7.6" text-anchor="end">4-1</text>
<text transform="translate(75.60,205.2) rotate(-90) scale(1.06,1)" font-size="7.6" text-anchor="end">4-2</text>
<text transform="translate(84.90,205.2) rotate(-90) scale(1.06,1)" font-size="7.6" text-anchor="end">4-3</text>
<text transform="translate(94.20,205.2) rotate(-90) scale(1.06,1)" font-size="7.6" text-anchor="end">5-1</text>
<text transform="translate(103.50,205.2) rotate(-90) scale(1.06,1)" font-size="7.6" text-anchor="end">5-4</text>
<text transform="translate(112.80,205.2) rotate(-90) scale(1.06,1)" font-size="7.6" text-anchor="end">5-5</text>
<text transform="translate(122.10,205.2) rotate(-90) scale(1.06,1)" font-size="7.6" text-anchor="end">5-6</text>
<text transform="translate(131.40,205.2) rotate(-90) scale(1.06,1)" font-size="7.6" text-anchor="end">5-8</text>
<text transform="translate(140.70,205.2) rotate(-90) scale(1.06,1)" font-size="7.6" text-anchor="end">6-1</text>
<text transform="translate(150.00,205.2) rotate(-90) scale(1.06,1)" font-size="7.6" text-anchor="end">6-2</text>
<text transform="translate(159.30,205.2) rotate(-90) scale(1.06,1)" font-size="7.6" text-anchor="end">6-3</text>
<text transform="translate(168.60,205.2) rotate(-90) scale(1.06,1)" font-size="7.6" text-anchor="end">6-4</text>
<text transform="translate(177.90,205.2) rotate(-90) scale(1.06,1)" font-size="7.6" text-anchor="end">6-5</text>
<text transform="translate(187.20,205.2) rotate(-90) scale(1.06,1)" font-size="7.6" text-anchor="end">6-6</text>
<text transform="translate(196.50,205.2) rotate(-90) scale(1.06,1)" font-size="7.6" text-anchor="end">6-7</text>
<text transform="translate(205.80,205.2) rotate(-90) scale(1.06,1)" font-size="7.6" text-anchor="end">7-1</text>
<text transform="translate(215.10,205.2) rotate(-90) scale(1.06,1)" font-size="7.6" text-anchor="end">7-2</text>
<text transform="translate(224.40,205.2) rotate(-90) scale(1.06,1)" font-size="7.6" text-anchor="end">7-3</text>
<text transform="translate(233.70,205.2) rotate(-90) scale(1.06,1)" font-size="7.6" text-anchor="end">7-4</text>
<text transform="translate(243.00,205.2) rotate(-90) scale(1.06,1)" font-size="7.6" text-anchor="end">7-6</text>
<text transform="translate(252.30,205.2) rotate(-90) scale(1.06,1)" font-size="7.6" text-anchor="end">7-7</text>
<text transform="translate(261.60,205.2) rotate(-90) scale(1.06,1)" font-size="7.6" text-anchor="end">7-8</text>
<text transform="translate(270.90,205.2) rotate(-90) scale(1.06,1)" font-size="7.6" text-anchor="end">7-9</text>
<text transform="translate(280.20,205.2) rotate(-90) scale(1.06,1)" font-size="7.6" text-anchor="end">9</text>
<text transform="translate(289.50,205.2) rotate(-90) scale(1.06,1)" font-size="7.6" text-anchor="end">10-1</text>
<text transform="translate(298.80,205.2) rotate(-90) scale(1.06,1)" font-size="7.6" text-anchor="end">10-2</text>
<text transform="translate(308.10,205.2) rotate(-90) scale(1.06,1)" font-size="7.6" text-anchor="end">10-3</text>
<text transform="translate(317.40,205.2) rotate(-90) scale(1.06,1)" font-size="7.6" text-anchor="end">11-1</text>
<text transform="translate(326.70,205.2) rotate(-90) scale(1.06,1)" font-size="7.6" text-anchor="end">11-2</text>
<text transform="translate(336.00,205.2) rotate(-90) scale(1.06,1)" font-size="7.6" text-anchor="end">11-3</text>
<text transform="translate(345.30,205.2) rotate(-90) scale(1.06,1)" font-size="7.6" text-anchor="end">12-3</text>
<text transform="translate(354.60,205.2) rotate(-90) scale(1.06,1)" font-size="7.6" text-anchor="end">12-4</text>
<text transform="translate(363.90,205.2) rotate(-90) scale(1.06,1)" font-size="7.6" text-anchor="end">12-5</text>
<text transform="translate(373.20,205.2) rotate(-90) scale(1.06,1)" font-size="7.6" text-anchor="end">13</text>
<text transform="translate(382.50,205.2) rotate(-90) scale(1.06,1)" font-size="7.6" text-anchor="end">14</text>
<text transform="translate(391.80,205.2) rotate(-90) scale(1.06,1)" font-size="7.6" text-anchor="end">15</text>
<text transform="translate(401.10,205.2) rotate(-90) scale(1.06,1)" font-size="7.6" text-anchor="end">16</text>
<text transform="translate(410.40,205.2) rotate(-90) scale(1.06,1)" font-size="7.6" text-anchor="end">18</text>
<text transform="translate(419.70,205.2) rotate(-90) scale(1.06,1)" font-size="7.6" text-anchor="end">19</text>
<text transform="translate(429.00,205.2) rotate(-90) scale(1.06,1)" font-size="7.6" text-anchor="end">20-1</text>
<text transform="translate(438.30,205.2) rotate(-90) scale(1.06,1)" font-size="7.6" text-anchor="end">21-1</text>
<text transform="translate(447.60,205.2) rotate(-90) scale(1.06,1)" font-size="7.6" text-anchor="end">23-1</text>
<text transform="translate(456.90,205.2) rotate(-90) scale(1.06,1)" font-size="7.6" text-anchor="end">24-1</text>
<text transform="translate(466.20,205.2) rotate(-90) scale(1.06,1)" font-size="7.6" text-anchor="end">25-1</text>
<text transform="translate(475.50,205.2) rotate(-90) scale(1.06,1)" font-size="7.6" text-anchor="end">27</text>
<text transform="translate(484.80,205.2) rotate(-90) scale(1.06,1)" font-size="7.6" text-anchor="end">28</text>
<text transform="translate(494.10,205.2) rotate(-90) scale(1.06,1)" font-size="7.6" text-anchor="end">29-1</text>
<text transform="translate(503.40,205.2) rotate(-90) scale(1.06,1)" font-size="7.6" text-anchor="end">30</text>
<text x="277.6" y="233.3" font-size="10.2" text-anchor="middle">TRBV segments</text>
<text transform="translate(9.3,108.7) rotate(-90)" font-size="10" text-anchor="middle">Frequency</text>
<text x="62" y="26.8" font-size="9.3">A</text>
<rect x="55.5" y="42.3" width="127" height="25.2" fill="#fff" stroke="#bdbdbd" stroke-width="0.7"/>
<rect x="55.8" y="42.6" width="24.2" height="12" fill="#000"/>
<rect x="55.8" y="55.8" width="24.2" height="10.8" fill="#e60000" stroke="#000" stroke-width="0.5"/>
<text x="82.5" y="52.4" font-size="9.3">Short CDR3 sequences</text>
<text x="82.5" y="64.4" font-size="9.3">Long CDR3 sequences</text>
<line x1="60.85" y1="374.95" x2="60.85" y2="388.47" stroke="#9a9a9a" stroke-width="0.6"/>
<line x1="58.85" y1="374.95" x2="62.85" y2="374.95" stroke="#9a9a9a" stroke-width="0.6"/>
<rect x="57.00" y="388.47" width="7.70" height="72.73" fill="#000" stroke="#000" stroke-width="0.6"/>
<rect x="64.70" y="423.59" width="7.70" height="37.61" fill="#e60000" stroke="#000" stroke-width="0.6"/>
<line x1="68.55" y1="417.14" x2="68.55" y2="423.59" stroke="#9a9a9a" stroke-width="0.6"/>
<line x1="66.55" y1="417.14" x2="70.55" y2="417.14" stroke="#9a9a9a" stroke-width="0.6"/>
<text x="63.24" y="371.67" font-size="8.5" font-weight="bold" style="fill:#e60000;stroke:#e60000">*</text>
<text x="64.70" y="474.1" font-size="7.8" text-anchor="middle">1-1</text>
<line x1="79.95" y1="380.00" x2="79.95" y2="387.23" stroke="#9a9a9a" stroke-width="0.6"/>
<line x1="77.95" y1="380.00" x2="81.95" y2="380.00" stroke="#9a9a9a" stroke-width="0.6"/>
<rect x="76.10" y="387.23" width="7.70" height="73.97" fill="#000" stroke="#000" stroke-width="0.6"/>
<rect x="83.80" y="414.58" width="7.70" height="46.62" fill="#e60000" stroke="#000" stroke-width="0.6"/>
<line x1="87.65" y1="389.25" x2="87.65" y2="414.58" stroke="#9a9a9a" stroke-width="0.6"/>
<line x1="85.65" y1="389.25" x2="89.65" y2="389.25" stroke="#9a9a9a" stroke-width="0.6"/>
<text x="82.84" y="377.97" font-size="8.5" font-weight="bold" style="fill:#e60000;stroke:#e60000">*</text>
<text x="83.80" y="474.1" font-size="7.8" text-anchor="middle">1-2</text>
<line x1="99.05" y1="439.83" x2="99.05" y2="441.31" stroke="#9a9a9a" stroke-width="0.6"/>
<line x1="97.05" y1="439.83" x2="101.05" y2="439.83" stroke="#9a9a9a" stroke-width="0.6"/>
<rect x="95.20" y="441.31" width="7.70" height="19.89" fill="#000" stroke="#000" stroke-width="0.6"/>
<rect x="102.90" y="439.52" width="7.70" height="21.68" fill="#e60000" stroke="#000" stroke-width="0.6"/>
<line x1="106.75" y1="436.57" x2="106.75" y2="439.52" stroke="#9a9a9a" stroke-width="0.6"/>
<line x1="104.75" y1="436.57" x2="108.75" y2="436.57" stroke="#9a9a9a" stroke-width="0.6"/>
<text x="102.90" y="474.1" font-size="7.8" text-anchor="middle">1-3</text>
<line x1="118.15" y1="421.57" x2="118.15" y2="425.30" stroke="#9a9a9a" stroke-width="0.6"/>
<line x1="116.15" y1="421.57" x2="120.15" y2="421.57" stroke="#9a9a9a" stroke-width="0.6"/>
<rect x="114.30" y="425.30" width="7.70" height="35.90" fill="#000" stroke="#000" stroke-width="0.6"/>
<rect x="122.00" y="430.35" width="7.70" height="30.85" fill="#e60000" stroke="#000" stroke-width="0.6"/>
<line x1="125.85" y1="425.61" x2="125.85" y2="430.35" stroke="#9a9a9a" stroke-width="0.6"/>
<line x1="123.85" y1="425.61" x2="127.85" y2="425.61" stroke="#9a9a9a" stroke-width="0.6"/>
<text x="122.00" y="474.1" font-size="7.8" text-anchor="middle">1-4</text>
<line x1="137.25" y1="399.97" x2="137.25" y2="404.63" stroke="#9a9a9a" stroke-width="0.6"/>
<line x1="135.25" y1="399.97" x2="139.25" y2="399.97" stroke="#9a9a9a" stroke-width="0.6"/>
<rect x="133.40" y="404.63" width="7.70" height="56.57" fill="#000" stroke="#000" stroke-width="0.6"/>
<rect x="141.10" y="394.92" width="7.70" height="66.28" fill="#e60000" stroke="#000" stroke-width="0.6"/>
<line x1="144.95" y1="385.99" x2="144.95" y2="394.92" stroke="#9a9a9a" stroke-width="0.6"/>
<line x1="142.95" y1="385.99" x2="146.95" y2="385.99" stroke="#9a9a9a" stroke-width="0.6"/>
<text x="141.10" y="474.1" font-size="7.8" text-anchor="middle">1-5</text>
<line x1="156.35" y1="422.82" x2="156.35" y2="427.87" stroke="#9a9a9a" stroke-width="0.6"/>
<line x1="154.35" y1="422.82" x2="158.35" y2="422.82" stroke="#9a9a9a" stroke-width="0.6"/>
<rect x="152.50" y="427.87" width="7.70" height="33.33" fill="#000" stroke="#000" stroke-width="0.6"/>
<rect x="160.20" y="427.87" width="7.70" height="33.33" fill="#e60000" stroke="#000" stroke-width="0.6"/>
<line x1="164.05" y1="419.63" x2="164.05" y2="427.87" stroke="#9a9a9a" stroke-width="0.6"/>
<line x1="162.05" y1="419.63" x2="166.05" y2="419.63" stroke="#9a9a9a" stroke-width="0.6"/>
<text x="160.20" y="474.1" font-size="7.8" text-anchor="middle">1-6</text>
<line x1="175.45" y1="342.63" x2="175.45" y2="355.14" stroke="#9a9a9a" stroke-width="0.6"/>
<line x1="173.45" y1="342.63" x2="177.45" y2="342.63" stroke="#9a9a9a" stroke-width="0.6"/>
<rect x="171.60" y="355.14" width="7.70" height="106.06" fill="#000" stroke="#000" stroke-width="0.6"/>
<rect x="179.30" y="339.21" width="7.70" height="121.99" fill="#e60000" stroke="#000" stroke-width="0.6"/>
<line x1="183.15" y1="326.00" x2="183.15" y2="339.21" stroke="#9a9a9a" stroke-width="0.6"/>
<line x1="181.15" y1="326.00" x2="185.15" y2="326.00" stroke="#9a9a9a" stroke-width="0.6"/>
<text x="179.30" y="474.1" font-size="7.8" text-anchor="middle">2-1</text>
<line x1="194.55" y1="402.46" x2="194.55" y2="407.90" stroke="#9a9a9a" stroke-width="0.6"/>
<line x1="192.55" y1="402.46" x2="196.55" y2="402.46" stroke="#9a9a9a" stroke-width="0.6"/>
<rect x="190.70" y="407.90" width="7.70" height="53.30" fill="#000" stroke="#000" stroke-width="0.6"/>
<rect x="198.40" y="389.95" width="7.70" height="71.25" fill="#e60000" stroke="#000" stroke-width="0.6"/>
<line x1="202.25" y1="383.03" x2="202.25" y2="389.95" stroke="#9a9a9a" stroke-width="0.6"/>
<line x1="200.25" y1="383.03" x2="204.25" y2="383.03" stroke="#9a9a9a" stroke-width="0.6"/>
<text x="195.34" y="381.97" font-size="8.5" font-weight="bold" style="fill:#e60000;stroke:#e60000">*</text>
<text x="198.40" y="474.1" font-size="7.8" text-anchor="middle">2-2</text>
<line x1="213.65" y1="373.55" x2="213.65" y2="381.25" stroke="#9a9a9a" stroke-width="0.6"/>
<line x1="211.65" y1="373.55" x2="215.65" y2="373.55" stroke="#9a9a9a" stroke-width="0.6"/>
<rect x="209.80" y="381.25" width="7.70" height="79.95" fill="#000" stroke="#000" stroke-width="0.6"/>
<rect x="217.50" y="355.53" width="7.70" height="105.67" fill="#e60000" stroke="#000" stroke-width="0.6"/>
<line x1="221.35" y1="342.63" x2="221.35" y2="355.53" stroke="#9a9a9a" stroke-width="0.6"/>
<line x1="219.35" y1="342.63" x2="223.35" y2="342.63" stroke="#9a9a9a" stroke-width="0.6"/>
<text x="212.84" y="341.22" font-size="8.5" font-weight="bold" style="fill:#e60000;stroke:#e60000">*</text>
<text x="217.50" y="474.1" font-size="7.8" text-anchor="middle">2-3</text>
<line x1="232.75" y1="452.26" x2="232.75" y2="453.51" stroke="#9a9a9a" stroke-width="0.6"/>
<line x1="230.75" y1="452.26" x2="234.75" y2="452.26" stroke="#9a9a9a" stroke-width="0.6"/>
<rect x="228.90" y="453.51" width="7.70" height="7.69" fill="#000" stroke="#000" stroke-width="0.6"/>
<rect x="236.60" y="447.14" width="7.70" height="14.06" fill="#e60000" stroke="#000" stroke-width="0.6"/>
<line x1="240.45" y1="444.88" x2="240.45" y2="447.14" stroke="#9a9a9a" stroke-width="0.6"/>
<line x1="238.45" y1="444.88" x2="242.45" y2="444.88" stroke="#9a9a9a" stroke-width="0.6"/>
<text x="234.54" y="441.72" font-size="8.5" font-weight="bold" style="fill:#e60000;stroke:#e60000">*</text>
<text x="236.60" y="474.1" font-size="7.8" text-anchor="middle">2-4</text>
<line x1="251.85" y1="382.72" x2="251.85" y2="391.27" stroke="#9a9a9a" stroke-width="0.6"/>
<line x1="249.85" y1="382.72" x2="253.85" y2="382.72" stroke="#9a9a9a" stroke-width="0.6"/>
<rect x="248.00" y="391.27" width="7.70" height="69.93" fill="#000" stroke="#000" stroke-width="0.6"/>
<rect x="255.70" y="394.92" width="7.70" height="66.28" fill="#e60000" stroke="#000" stroke-width="0.6"/>
<line x1="259.55" y1="385.05" x2="259.55" y2="394.92" stroke="#9a9a9a" stroke-width="0.6"/>
<line x1="257.55" y1="385.05" x2="261.55" y2="385.05" stroke="#9a9a9a" stroke-width="0.6"/>
<text x="255.70" y="474.1" font-size="7.8" text-anchor="middle">2-5</text>
<line x1="270.95" y1="444.88" x2="270.95" y2="448.22" stroke="#9a9a9a" stroke-width="0.6"/>
<line x1="268.95" y1="444.88" x2="272.95" y2="444.88" stroke="#9a9a9a" stroke-width="0.6"/>
<rect x="267.10" y="448.22" width="7.70" height="12.98" fill="#000" stroke="#000" stroke-width="0.6"/>
<rect x="274.80" y="414.89" width="7.70" height="46.31" fill="#e60000" stroke="#000" stroke-width="0.6"/>
<line x1="278.65" y1="409.92" x2="278.65" y2="414.89" stroke="#9a9a9a" stroke-width="0.6"/>
<line x1="276.65" y1="409.92" x2="280.65" y2="409.92" stroke="#9a9a9a" stroke-width="0.6"/>
<text x="270.84" y="406.22" font-size="8.5" font-weight="bold" style="fill:#e60000;stroke:#e60000">*</text>
<text x="274.80" y="474.1" font-size="7.8" text-anchor="middle">2-6</text>
<line x1="290.05" y1="294.14" x2="290.05" y2="310.00" stroke="#9a9a9a" stroke-width="0.6"/>
<line x1="288.05" y1="294.14" x2="292.05" y2="294.14" stroke="#9a9a9a" stroke-width="0.6"/>
<rect x="286.20" y="310.00" width="7.70" height="151.20" fill="#000" stroke="#000" stroke-width="0.6"/>
<rect x="293.90" y="350.09" width="7.70" height="111.11" fill="#e60000" stroke="#000" stroke-width="0.6"/>
<line x1="297.75" y1="336.41" x2="297.75" y2="350.09" stroke="#9a9a9a" stroke-width="0.6"/>
<line x1="295.75" y1="336.41" x2="299.75" y2="336.41" stroke="#9a9a9a" stroke-width="0.6"/>
<text x="293.59" y="290.22" font-size="8.5" font-weight="bold" style="fill:#e60000;stroke:#e60000">*</text>
<text x="293.90" y="474.1" font-size="7.8" text-anchor="middle">2-7</text>
<line x1="45.40" y1="266.50" x2="45.40" y2="461.70" stroke="#000" stroke-width="1"/>
<line x1="44.90" y1="461.20" x2="313.50" y2="461.20" stroke="#000" stroke-width="1"/>
<line x1="41.40" y1="461.20" x2="45.40" y2="461.20" stroke="#000" stroke-width="1"/>
<text x="38.8" y="464.20" font-size="8.3" text-anchor="end">0%</text>
<line x1="43.40" y1="441.77" x2="45.40" y2="441.77" stroke="#000" stroke-width="1"/>
<line x1="41.40" y1="422.35" x2="45.40" y2="422.35" stroke="#000" stroke-width="1"/>
<text x="38.8" y="425.35" font-size="8.3" text-anchor="end">5%</text>
<line x1="43.40" y1="402.93" x2="45.40" y2="402.93" stroke="#000" stroke-width="1"/>
<line x1="41.40" y1="383.50" x2="45.40" y2="383.50" stroke="#000" stroke-width="1"/>
<text x="38.8" y="386.50" font-size="8.3" text-anchor="end">10%</text>
<line x1="43.40" y1="364.07" x2="45.40" y2="364.07" stroke="#000" stroke-width="1"/>
<line x1="41.40" y1="344.65" x2="45.40" y2="344.65" stroke="#000" stroke-width="1"/>
<text x="38.8" y="347.65" font-size="8.3" text-anchor="end">15%</text>
<line x1="43.40" y1="325.23" x2="45.40" y2="325.23" stroke="#000" stroke-width="1"/>
<line x1="41.40" y1="305.80" x2="45.40" y2="305.80" stroke="#000" stroke-width="1"/>
<text x="38.8" y="308.80" font-size="8.3" text-anchor="end">20%</text>
<line x1="43.40" y1="286.38" x2="45.40" y2="286.38" stroke="#000" stroke-width="1"/>
<line x1="41.40" y1="266.95" x2="45.40" y2="266.95" stroke="#000" stroke-width="1"/>
<text x="38.8" y="269.95" font-size="8.3" text-anchor="end">25%</text>
<line x1="54.95" y1="461.20" x2="54.95" y2="463.20" stroke="#000" stroke-width="1"/>
<line x1="64.50" y1="461.20" x2="64.50" y2="465.20" stroke="#000" stroke-width="1"/>
<line x1="74.05" y1="461.20" x2="74.05" y2="463.20" stroke="#000" stroke-width="1"/>
<line x1="83.60" y1="461.20" x2="83.60" y2="465.20" stroke="#000" stroke-width="1"/>
<line x1="93.15" y1="461.20" x2="93.15" y2="463.20" stroke="#000" stroke-width="1"/>
<line x1="102.70" y1="461.20" x2="102.70" y2="465.20" stroke="#000" stroke-width="1"/>
<line x1="112.25" y1="461.20" x2="112.25" y2="463.20" stroke="#000" stroke-width="1"/>
<line x1="121.80" y1="461.20" x2="121.80" y2="465.20" stroke="#000" stroke-width="1"/>
<line x1="131.35" y1="461.20" x2="131.35" y2="463.20" stroke="#000" stroke-width="1"/>
<line x1="140.90" y1="461.20" x2="140.90" y2="465.20" stroke="#000" stroke-width="1"/>
<line x1="150.45" y1="461.20" x2="150.45" y2="463.20" stroke="#000" stroke-width="1"/>
<line x1="160.00" y1="461.20" x2="160.00" y2="465.20" stroke="#000" stroke-width="1"/>
<line x1="169.55" y1="461.20" x2="169.55" y2="463.20" stroke="#000" stroke-width="1"/>
<line x1="179.10" y1="461.20" x2="179.10" y2="465.20" stroke="#000" stroke-width="1"/>
<line x1="188.65" y1="461.20" x2="188.65" y2="463.20" stroke="#000" stroke-width="1"/>
<line x1="198.20" y1="461.20" x2="198.20" y2="465.20" stroke="#000" stroke-width="1"/>
<line x1="207.75" y1="461.20" x2="207.75" y2="463.20" stroke="#000" stroke-width="1"/>
<line x1="217.30" y1="461.20" x2="217.30" y2="465.20" stroke="#000" stroke-width="1"/>
<line x1="226.85" y1="461.20" x2="226.85" y2="463.20" stroke="#000" stroke-width="1"/>
<line x1="236.40" y1="461.20" x2="236.40" y2="465.20" stroke="#000" stroke-width="1"/>
<line x1="245.95" y1="461.20" x2="245.95" y2="463.20" stroke="#000" stroke-width="1"/>
<line x1="255.50" y1="461.20" x2="255.50" y2="465.20" stroke="#000" stroke-width="1"/>
<line x1="265.05" y1="461.20" x2="265.05" y2="463.20" stroke="#000" stroke-width="1"/>
<line x1="274.60" y1="461.20" x2="274.60" y2="465.20" stroke="#000" stroke-width="1"/>
<line x1="284.15" y1="461.20" x2="284.15" y2="463.20" stroke="#000" stroke-width="1"/>
<line x1="293.70" y1="461.20" x2="293.70" y2="465.20" stroke="#000" stroke-width="1"/>
<line x1="303.25" y1="461.20" x2="303.25" y2="463.20" stroke="#000" stroke-width="1"/>
<line x1="312.80" y1="461.20" x2="312.80" y2="465.20" stroke="#000" stroke-width="1"/>
<text x="178.8" y="488.7" font-size="10" text-anchor="middle">TRBJ segments</text>
<text transform="translate(13.8,370.3) rotate(-90)" font-size="9.7" text-anchor="middle">Frequency</text>
<text class="s" transform="translate(67.7,289.4) scale(0.79,1)" font-size="14.4">B</text>
<line x1="380.12" y1="319.98" x2="380.12" y2="325.80" stroke="#606060" stroke-width="0.6"/>
<line x1="378.12" y1="319.98" x2="382.12" y2="319.98" stroke="#606060" stroke-width="0.6"/>
<rect x="365.75" y="325.80" width="28.75" height="135.00" fill="#000"/>
<rect x="394.5" y="349.09" width="29.25" height="111.71" fill="#ee0000"/>
<line x1="409.12" y1="339.11" x2="409.12" y2="359.07" stroke="#6a6a70" stroke-width="0.6"/>
<line x1="407.12" y1="339.11" x2="411.12" y2="339.11" stroke="#6a6a70" stroke-width="0.6"/>
<text x="395.84" y="314.22" font-size="8.5" font-weight="bold" style="fill:#e60000;stroke:#e60000">*</text>
<text x="394.50" y="473.9" font-size="8.9" text-anchor="middle">TRBD1</text>
<line x1="452.50" y1="312.50" x2="452.50" y2="318.60" stroke="#606060" stroke-width="0.6"/>
<line x1="450.50" y1="312.50" x2="454.50" y2="312.50" stroke="#606060" stroke-width="0.6"/>
<rect x="438" y="318.60" width="29" height="142.20" fill="#000"/>
<rect x="467" y="295.31" width="29" height="165.49" fill="#ee0000"/>
<line x1="481.50" y1="285.61" x2="481.50" y2="305.01" stroke="#6a6a70" stroke-width="0.6"/>
<line x1="479.50" y1="285.61" x2="483.50" y2="285.61" stroke="#6a6a70" stroke-width="0.6"/>
<text x="463.34" y="286.72" font-size="8.5" font-weight="bold" style="fill:#e60000;stroke:#e60000">*</text>
<text x="467.00" y="473.9" font-size="8.9" text-anchor="middle">TRBD2</text>
<line x1="358.50" y1="266.30" x2="358.50" y2="461.30" stroke="#000" stroke-width="1"/>
<line x1="358.00" y1="460.80" x2="503.70" y2="460.80" stroke="#000" stroke-width="1"/>
<line x1="354.50" y1="460.80" x2="358.50" y2="460.80" stroke="#000" stroke-width="1"/>
<text x="351.8" y="463.80" font-size="8.3" text-anchor="end">0%</text>
<line x1="356.50" y1="433.08" x2="358.50" y2="433.08" stroke="#000" stroke-width="1"/>
<line x1="354.50" y1="405.36" x2="358.50" y2="405.36" stroke="#000" stroke-width="1"/>
<text x="351.8" y="408.36" font-size="8.3" text-anchor="end">20%</text>
<line x1="356.50" y1="377.64" x2="358.50" y2="377.64" stroke="#000" stroke-width="1"/>
<line x1="354.50" y1="349.92" x2="358.50" y2="349.92" stroke="#000" stroke-width="1"/>
<text x="351.8" y="352.92" font-size="8.3" text-anchor="end">40%</text>
<line x1="356.50" y1="322.20" x2="358.50" y2="322.20" stroke="#000" stroke-width="1"/>
<line x1="354.50" y1="294.48" x2="358.50" y2="294.48" stroke="#000" stroke-width="1"/>
<text x="351.8" y="297.48" font-size="8.3" text-anchor="end">60%</text>
<line x1="356.50" y1="266.76" x2="358.50" y2="266.76" stroke="#000" stroke-width="1"/>
<line x1="394.80" y1="460.80" x2="394.80" y2="464.80" stroke="#000" stroke-width="1"/>
<line x1="431.20" y1="460.80" x2="431.20" y2="462.80" stroke="#000" stroke-width="1"/>
<line x1="467.30" y1="460.80" x2="467.30" y2="464.80" stroke="#000" stroke-width="1"/>
<line x1="503.40" y1="460.80" x2="503.40" y2="462.80" stroke="#000" stroke-width="1"/>
<text x="431.2" y="488.5" font-size="10.2" text-anchor="middle">TRBD segments</text>
<text transform="translate(326.6,370.4) rotate(-90)" font-size="9.7" text-anchor="middle">Frequency</text>
<text transform="translate(379.4,288) scale(0.72,1)" font-size="13.6">C</text>
</g></svg></body></html>
